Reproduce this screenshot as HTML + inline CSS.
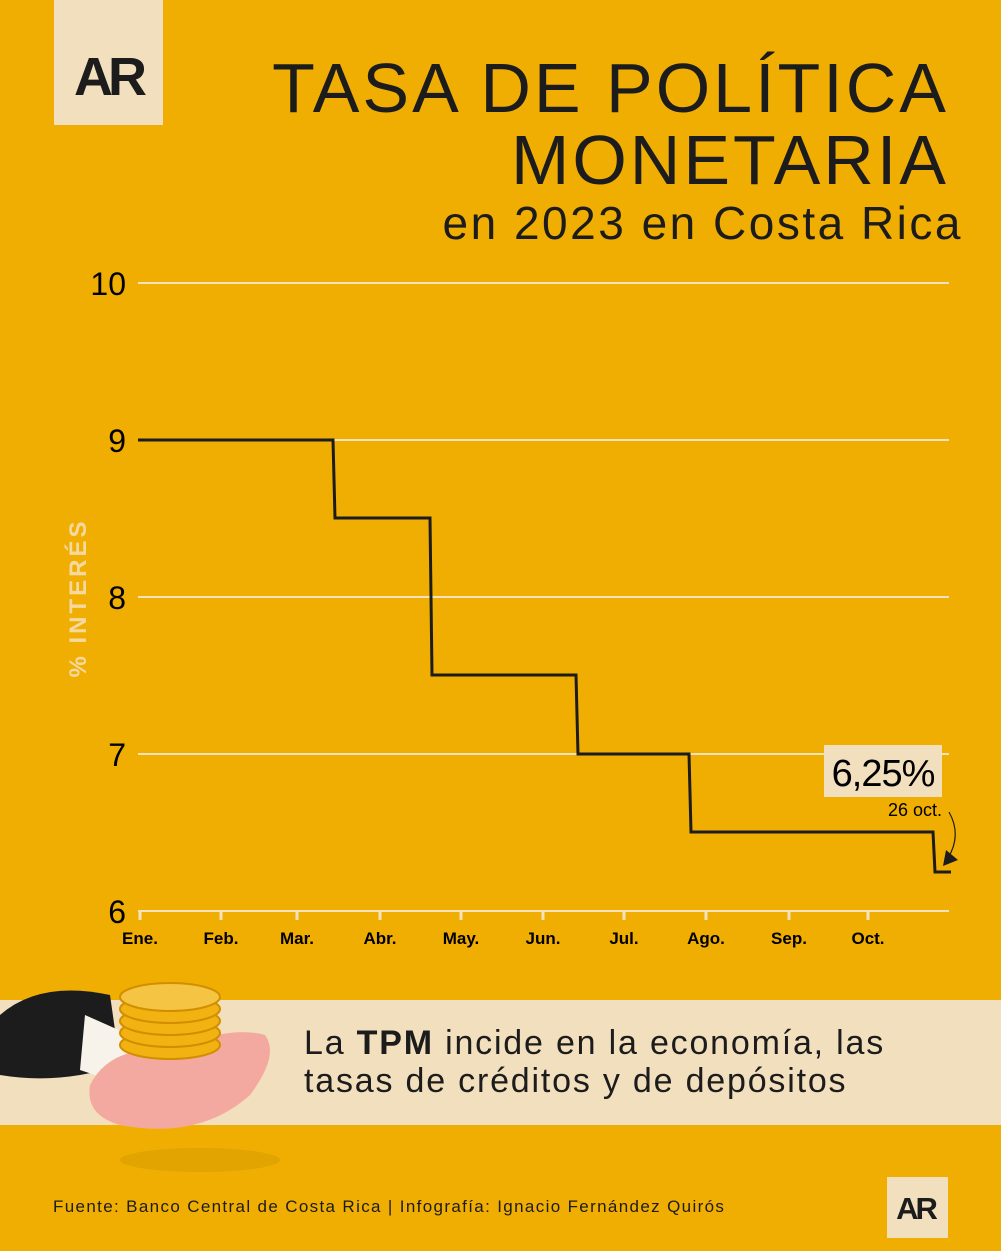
<!DOCTYPE html>
<html><head><meta charset="utf-8"><style>
body{margin:0;width:1001px;height:1251px;background:#f1ae02;position:relative;overflow:hidden;font-family:"Liberation Sans",sans-serif;color:#1c1c1c}
.a{position:absolute}
</style></head><body>
<div class="a" style="left:54px;top:0;width:109px;height:125px;background:#f2dfbd"></div>
<div class="a" style="left:58px;top:46px;width:100px;font-size:54px;font-weight:bold;letter-spacing:-5px;text-align:center">AR</div>
<div class="a" style="right:52px;top:52px;font-size:70px;line-height:72px;text-align:right;letter-spacing:3px">TASA DE POLÍTICA<br>MONETARIA</div>
<div class="a" style="right:38px;top:196px;font-size:46px;letter-spacing:2.5px">en 2023 en Costa Rica</div>
<svg class="a" style="left:0;top:0" width="1001" height="1000">
<g stroke="#f5e3bd" stroke-width="2">
<line x1="138" y1="283" x2="949" y2="283"/><line x1="138" y1="440" x2="949" y2="440"/><line x1="138" y1="597" x2="949" y2="597"/><line x1="138" y1="754" x2="949" y2="754"/><line x1="138" y1="911" x2="949" y2="911"/>
<g stroke-width="3"><line x1="140" y1="911" x2="140" y2="920"/><line x1="221" y1="911" x2="221" y2="920"/><line x1="297" y1="911" x2="297" y2="920"/><line x1="380" y1="911" x2="380" y2="920"/><line x1="461" y1="911" x2="461" y2="920"/><line x1="543" y1="911" x2="543" y2="920"/><line x1="624" y1="911" x2="624" y2="920"/><line x1="706" y1="911" x2="706" y2="920"/><line x1="789" y1="911" x2="789" y2="920"/><line x1="868" y1="911" x2="868" y2="920"/></g>
</g>
<polyline fill="none" stroke="#1c1c1c" stroke-width="3" points="138,440 333,440 335,518 430,518 432,675 576,675 578,754 689,754 691,832 933,832 935,872 951,872"/>
<path d="M949,812 Q962,835 948,858" fill="none" stroke="#1c1c1c" stroke-width="1.2"/>
<polygon points="943,866 958,860 946,850" fill="#1c1c1c"/>
<g font-size="32" text-anchor="end"><text x="126" y="295">10</text><text x="126" y="452">9</text><text x="126" y="609">8</text><text x="126" y="766">7</text><text x="126" y="923">6</text></g>
<g font-size="17" text-anchor="middle" font-weight="bold"><text x="140" y="944">Ene.</text><text x="221" y="944">Feb.</text><text x="297" y="944">Mar.</text><text x="380" y="944">Abr.</text><text x="461" y="944">May.</text><text x="543" y="944">Jun.</text><text x="624" y="944">Jul.</text><text x="706" y="944">Ago.</text><text x="789" y="944">Sep.</text><text x="868" y="944">Oct.</text></g>
<text transform="translate(86,598) rotate(-90)" text-anchor="middle" font-size="24" font-weight="bold" fill="#f5d9a0" letter-spacing="3">% INTERÉS</text>
<rect x="824" y="745" width="118" height="52" fill="#f2dfbd"/>
<text x="883" y="786" text-anchor="middle" font-size="38" letter-spacing="-1">6,25%</text>
<text x="942" y="816" text-anchor="end" font-size="18">26 oct.</text>
</svg>
<div class="a" style="left:0;top:1000px;width:1001px;height:125px;background:#f2dfbd"></div>
<div class="a" style="left:304px;top:1024px;font-size:34px;line-height:38px;letter-spacing:1.8px">La <b>TPM</b> incide en la economía, las<br>tasas de créditos y de depósitos</div>
<svg class="a" style="left:0;top:975px" width="300" height="200">
<ellipse cx="200" cy="185" rx="80" ry="12" fill="#d49a00" opacity=".5"/>
<path d="M0,40 Q40,5 110,20 L120,90 Q60,110 0,100Z" fill="#1c1c1c"/>
<path d="M85,40 L130,60 L125,110 L80,95Z" fill="#f7f2ea"/>
<path d="M90,110 Q110,70 170,75 Q230,50 265,60 Q280,80 250,120 Q200,165 120,150 Q85,140 90,110Z" fill="#f4a9a0"/>
<g fill="#f2b212" stroke="#d18f00" stroke-width="2"><ellipse cx="170" cy="70" rx="50" ry="14"/><ellipse cx="170" cy="58" rx="50" ry="14"/><ellipse cx="170" cy="46" rx="50" ry="14"/><ellipse cx="170" cy="34" rx="50" ry="14"/><ellipse cx="170" cy="22" rx="50" ry="14" fill="#f6c443"/></g>
</svg>
<div class="a" style="left:53px;top:1197px;font-size:17px;letter-spacing:1.35px">Fuente: Banco Central de Costa Rica | Infografía: Ignacio Fernández Quirós</div>
<div class="a" style="left:887px;top:1177px;width:61px;height:61px;background:#f2dfbd"></div>
<div class="a" style="left:885px;top:1191px;width:61px;font-size:31px;font-weight:bold;letter-spacing:-3px;text-align:center">AR</div>
</body></html>
